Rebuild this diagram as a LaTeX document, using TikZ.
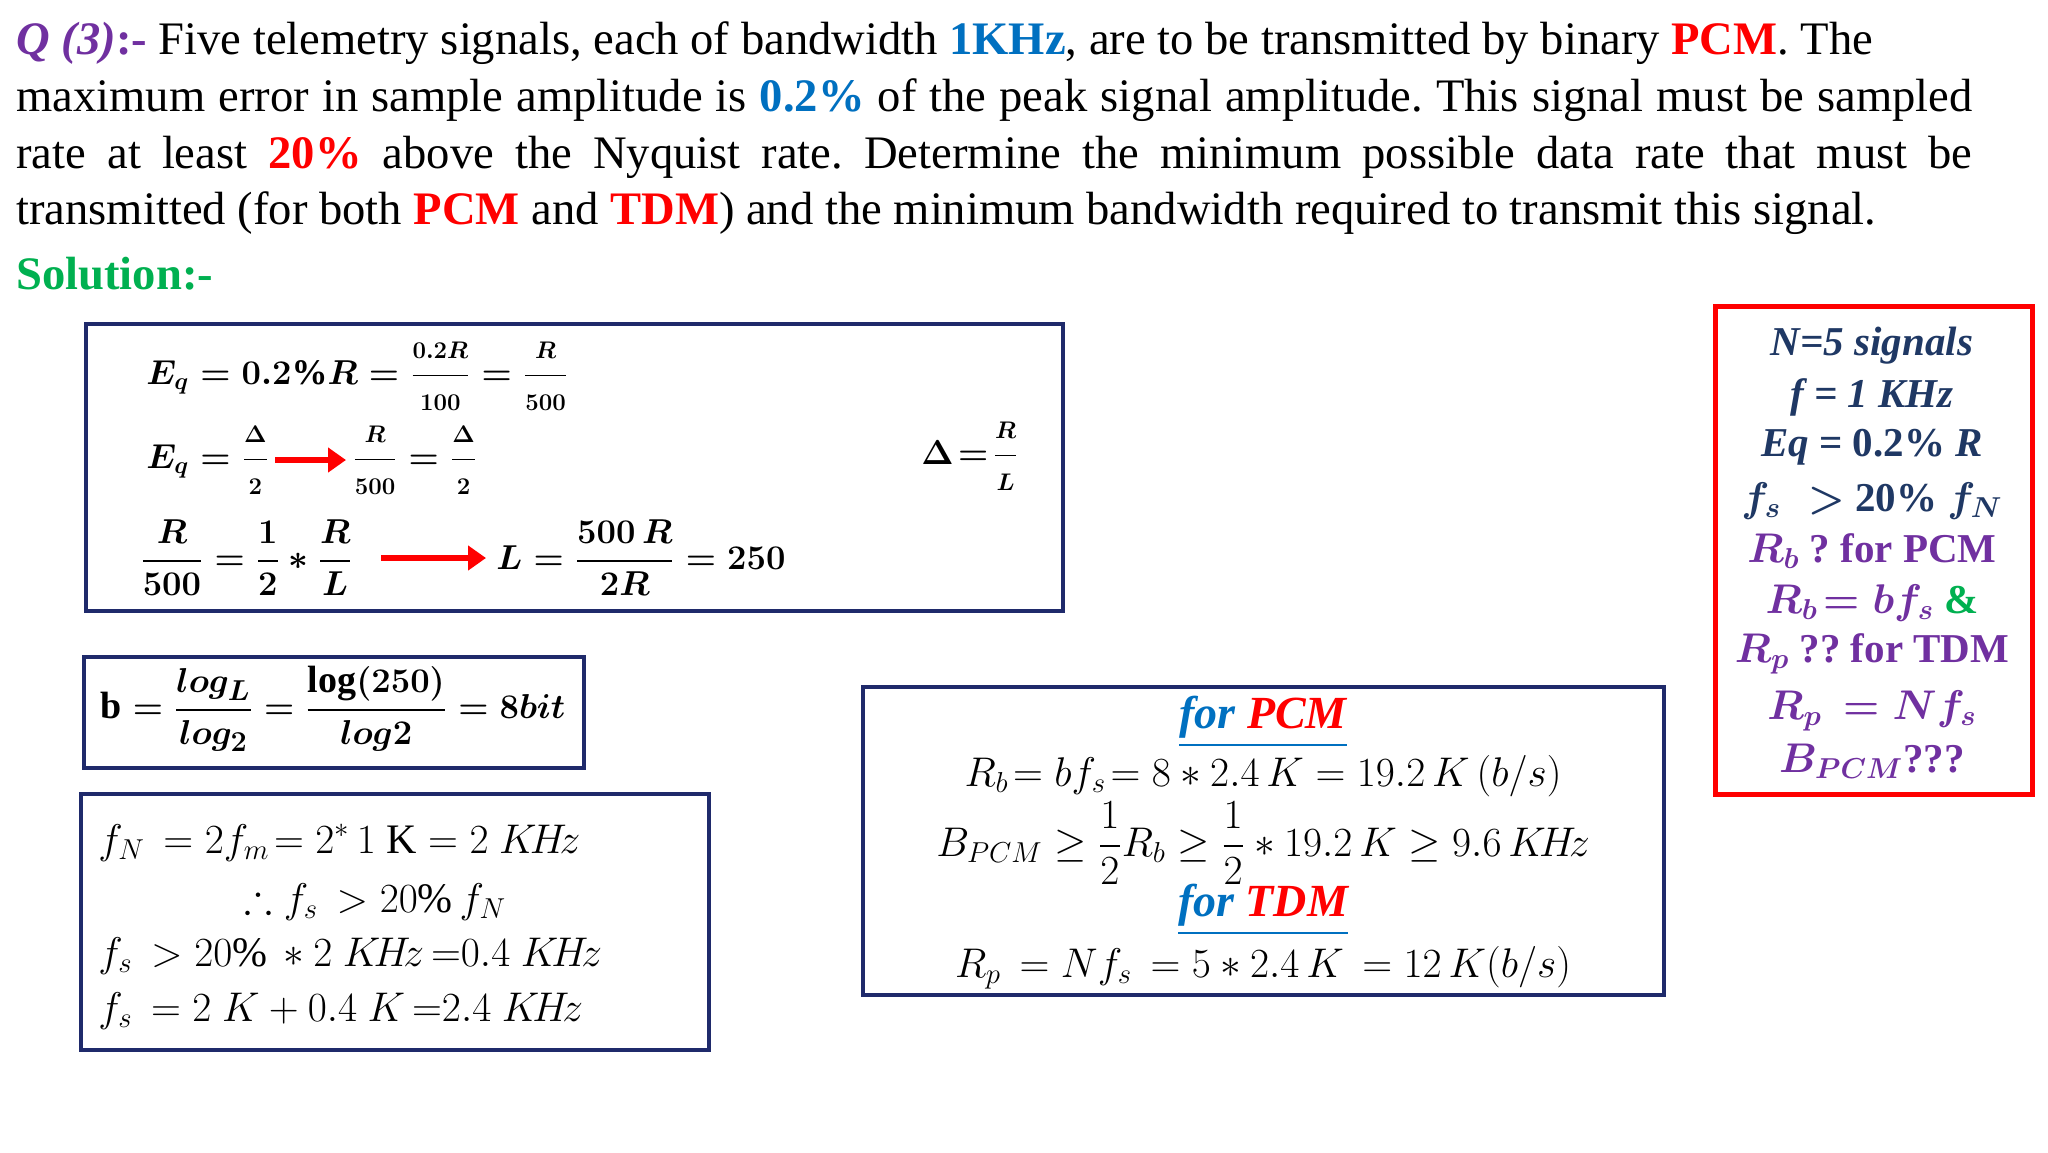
\documentclass[tikz,border=0pt]{standalone}
\usepackage{amsmath,amssymb,bm}
\usepackage{fontspec}
\setmainfont{Liberation Serif}
\usetikzlibrary{arrows.meta}
\definecolor{navy}{HTML}{1F2A6B}
\definecolor{dnavy}{HTML}{1F3864}
\definecolor{qpurple}{HTML}{7030A0}
\definecolor{qblue}{HTML}{0070C0}
\definecolor{qred}{HTML}{FF0000}
\definecolor{qgreen}{HTML}{00B050}
\newcommand{\smfr}[2]{\dfrac{\scriptstyle #1}{\scriptstyle #2}}
\frenchspacing
\begin{document}
\begin{tikzpicture}[x=0.5pt,y=-0.5pt,
  box/.style={draw=navy,line width=2pt},
  rbox/.style={draw=qred,line width=2.5pt},
  hl/.style={anchor=base west,inner sep=0pt,font=\fontsize{23.3}{26}\selectfont},
  tx/.style={inner sep=0pt},
  bA/.style={tx,font=\fontsize{18}{22}\selectfont\boldmath},
  bB/.style={tx,font=\fontsize{19}{22}\selectfont\boldmath},
  nA/.style={tx,font=\fontsize{21}{24}\selectfont},
  nB/.style={tx,font=\fontsize{22}{24}\selectfont},
  ra/.style={-{Triangle[length=9pt,width=12pt]},qred,line width=3pt}]
\useasboundingbox (0,0) rectangle (2048,1152);
\fill[white] (0,0) rectangle (2048,1152);
% header
\node[hl] (h1) at (16,54) {\textcolor{qpurple}{\textbf{\textit{Q (3)}:-}} Five telemetry signals, each of bandwidth \textcolor{qblue}{\textbf{1KHz}}, are to be transmitted by binary \textcolor{qred}{\textbf{PCM}}. The};
\node[hl] (h2) at (16,111) {\makebox[978pt][s]{maximum error in sample amplitude is \textcolor{qblue}{\textbf{0.2\%}} of the peak signal amplitude. This signal must be sampled}};
\node[hl] (h3) at (16,168) {\makebox[978pt][s]{rate at least \textcolor{qred}{\textbf{20\%}} above the Nyquist rate. Determine the minimum possible data rate that must be}};
\node[hl] (h4) at (16,224) {transmitted (for both \textcolor{qred}{\textbf{PCM}} and \textcolor{qred}{\textbf{TDM}}) and the minimum bandwidth required to transmit this signal.};
\node[hl] (sol) at (16,289) {\textcolor{qgreen}{\textbf{Solution:-}}};
% box 1
\draw[box] (86,324) rectangle (1063,611);
\node[bA,anchor=west] (r1) at (146,376) {$E_q=0.2\%R=\smfr{0.2R}{100}=\smfr{R}{500}$};
\node[bA,anchor=west] (r2a) at (146,460) {$E_q=\smfr{\Delta}{2}$};
\node[bA,anchor=west] (r2b) at (352,460) {$\smfr{R}{500}=\smfr{\Delta}{2}$};
\draw[ra] ([xshift=3pt]r2a.east) -- ([xshift=-3pt]r2b.west);
\node[bA] (dl) at (970,456) {$\Delta\!=\!\smfr{R}{L}$};
\node[bB,anchor=west] (r3a) at (140,558) {$\dfrac{R}{500}=\dfrac{1}{2}*\dfrac{R}{L}$};
\node[bB,anchor=west] (r3b) at (496,558) {$L=\dfrac{500\,R}{2R}=250$};
\draw[ra] ([xshift=14pt]r3a.east) -- ([xshift=-5pt]r3b.west);
% box 2
\draw[box] (84,657) rectangle (584,768);
\node[bB] (bb) at (333,709) {$\mathrm{b}=\dfrac{log_L}{log_2}=\dfrac{\log(250)}{log2}=8bit$};
% box 3
\draw[box] (81,794) rectangle (709,1050);
\node[nA,anchor=base west] (f1) at (98,853) {$f_N\,=2f_m\!=2^*\,1\text{ K}=2\ K\!H\!z$};
\node[nA,anchor=base west] (f2) at (244,912) {$\therefore f_s\,>20\%\,f_N$};
\node[nA,anchor=base west] (f3) at (98,966) {$f_s\,>20\%\,*2\ K\!H\!z\,{=}0.4\ K\!H\!z$};
\node[nA,anchor=base west] (f4) at (98,1021) {$f_s\,=2\ K+0.4\ K\,{=}2.4\ K\!H\!z$};
% box 4
\draw[box] (863,687) rectangle (1664,995);
\node[tx,font=\fontsize{23}{24}\selectfont\boldmath,text=qblue] (p1) at (1263,722) {\underline{$\mathit{for}$ \textcolor{qred}{$\mathit{PCM}$}}};
\node[nB] (p2) at (1263,776) {$R_b\!=bf_s\!=8*2.4\,K=19.2\,K\,(b/s)$};
\node[nB] (p3) at (1263,843) {$B_{PCM}\geq\dfrac12R_b\geq\dfrac12*19.2\,K\geq9.6\,K\!H\!z$};
\node[tx,font=\fontsize{23}{24}\selectfont\boldmath,text=qblue] (p4) at (1263,910) {\underline{$\mathit{for}$ \textcolor{qred}{$\mathit{TDM}$}}};
\node[nB] (p5) at (1263,968) {$R_p\,=Nf_s\,=5*2.4\,K\,=12\,K(b/s)$};
% red box
\draw[rbox] (1715,306) rectangle (2032,794);
\begin{scope}[every node/.style={tx,font=\fontsize{20.5}{22}\selectfont\bfseries\boldmath}]
\node[text=dnavy] (n1) at (1872,346) {\textit{N=5 signals}};
\node[text=dnavy] (n2) at (1872,397) {\textit{f = 1 KHz}};
\node[text=dnavy] (n3) at (1872,447) {\textit{Eq} = 0.2\% \textit{R}};
\node[text=dnavy] (n4) at (1872,501) {$f_s\;>$ 20\% $f_N$};
\node[text=qpurple] (n5) at (1872,551) {$R_b$ ? for PCM};
\node[text=qpurple] (n6) at (1872,603) {$R_b\!=bf_s$ \textcolor{qgreen}{\&}};
\node[text=qpurple] (n7) at (1872,654) {$R_p$ ?? for TDM};
\node[text=qpurple] (n8) at (1872,711) {$R_p\,=Nf_s$};
\node[text=qpurple] (n9) at (1872,761) {$B_{PCM}$???};
\end{scope}
\end{tikzpicture}
\end{document}
